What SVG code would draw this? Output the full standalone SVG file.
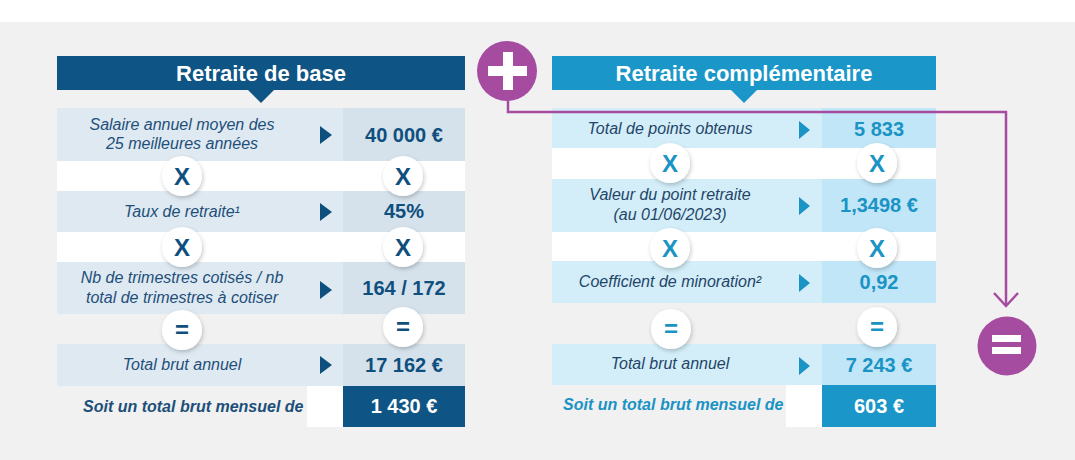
<svg xmlns="http://www.w3.org/2000/svg" width="1075" height="460" viewBox="0 0 1075 460">
<defs>
<filter id="sh" x="-40%" y="-40%" width="180%" height="180%">
<feDropShadow dx="1" dy="2" stdDeviation="2" flood-color="#000" flood-opacity="0.22"/>
</filter>
</defs>
<style>
text{font-family:"Liberation Sans",Arial,sans-serif}
.hd{font-size:22px;font-weight:bold;fill:#fff;text-anchor:middle}
.lb{font-size:16px;font-style:italic;text-anchor:middle}
.lL{fill:#1d4f7a}
.lR{fill:#1f4568}
.vL{font-size:20px;font-weight:bold;fill:#0f4f7e;text-anchor:middle}
.vR{font-size:20px;font-weight:bold;fill:#1a93c5;text-anchor:middle}
.vW{font-size:20px;font-weight:bold;fill:#fff;text-anchor:middle}
.tot{font-size:16px;font-weight:bold;font-style:italic}
.op{font-size:24px;font-weight:bold;text-anchor:middle}
.cw{fill:#fff;filter:url(#sh)}
.rowL{fill:#dfe9f1}.valL{fill:#d5e2ec}
.rowR{fill:#d3eef9}.valR{fill:#c1e6f7}
.arL{fill:#0f4f7e}.arR{fill:#1a93c5}
</style>
<rect x="0" y="0" width="1075" height="460" fill="#fff"/>
<rect x="0" y="22" width="1075" height="438" fill="#f1f1f1"/>

<g id="base">
<rect x="57" y="56" width="408" height="34" fill="#0e5484"/>
<path d="M247,89 L275,89 L261,103 Z" fill="#0e5484"/>
<text class="hd" x="261" y="81">Retraite de base</text>

<rect x="57" y="161" width="408" height="30" fill="#fff"/>
<rect x="57" y="232" width="408" height="30" fill="#fff"/>

<g id="base-r1">
<rect class="rowL" x="57" y="108" width="286" height="53"/>
<rect class="valL" x="343" y="108" width="122" height="53"/>
<text class="lb lL" x="182" y="130">Salaire annuel moyen des</text>
<text class="lb lL" x="182" y="149">25 meilleures années</text>
<path class="arL" d="M320,126 L332,135 L320,144 Z"/>
<text class="vL" x="404" y="142">40 000 €</text>
</g>
<g id="base-r2">
<rect class="rowL" x="57" y="191" width="286" height="41"/>
<rect class="valL" x="343" y="191" width="122" height="41"/>
<text class="lb lL" x="182" y="217">Taux de retraite¹</text>
<path class="arL" d="M320,203 L332,212 L320,221 Z"/>
<text class="vL" x="404" y="218">45%</text>
</g>
<g id="base-r3">
<rect class="rowL" x="57" y="262" width="286" height="52"/>
<rect class="valL" x="343" y="262" width="122" height="52"/>
<text class="lb lL" x="182" y="283">Nb de trimestres cotisés / nb</text>
<text class="lb lL" x="182" y="303">total de trimestres à cotiser</text>
<path class="arL" d="M320,281 L332,290 L320,299 Z"/>
<text class="vL" x="404" y="295">164 / 172</text>
</g>
<g id="base-r4">
<rect class="rowL" x="57" y="344" width="286" height="42"/>
<rect class="valL" x="343" y="344" width="122" height="42"/>
<text class="lb lL" x="182" y="370">Total brut annuel</text>
<path class="arL" d="M320,356 L332,365 L320,374 Z"/>
<text class="vL" x="404" y="372">17 162 €</text>
</g>
<g id="base-r5">
<text class="tot" x="83" y="412" fill="#1d4f7a">Soit un total brut mensuel de</text>
<rect x="307" y="386" width="36" height="41" fill="#fff"/>
<rect x="343" y="386" width="122" height="41" fill="#0e5484"/>
<text class="vW" x="404" y="413">1 430 €</text>
</g>
<g id="base-ops">
<circle class="cw" cx="182" cy="176" r="20"/>
<circle class="cw" cx="403" cy="176" r="20"/>
<circle class="cw" cx="182" cy="247" r="20"/>
<circle class="cw" cx="403" cy="247" r="20"/>
<circle class="cw" cx="182" cy="330" r="20"/>
<circle class="cw" cx="403" cy="327" r="20"/>
<text class="op" x="182" y="185" fill="#0f4f7e">X</text>
<text class="op" x="403" y="185" fill="#0f4f7e">X</text>
<text class="op" x="182" y="256" fill="#0f4f7e">X</text>
<text class="op" x="403" y="256" fill="#0f4f7e">X</text>
<text class="op" x="182" y="338" fill="#0f4f7e">=</text>
<text class="op" x="403" y="335" fill="#0f4f7e">=</text>
</g>
</g>

<g id="complementaire">
<rect x="552" y="56" width="384" height="34" fill="#1a96c8"/>
<path d="M730,89 L758,89 L744,103 Z" fill="#1a96c8"/>
<text class="hd" x="744" y="81">Retraite complémentaire</text>

<rect x="552" y="148" width="384" height="31" fill="#fff"/>
<rect x="552" y="232" width="384" height="29" fill="#fff"/>

<g id="comp-r1">
<rect class="rowR" x="552" y="108" width="270" height="40"/>
<rect class="valR" x="822" y="108" width="114" height="40"/>
<text class="lb lR" x="670" y="134">Total de points obtenus</text>
<path class="arR" d="M799,121 L810,130 L799,139 Z"/>
<text class="vR" x="879" y="136">5 833</text>
</g>
<g id="comp-r2">
<rect class="rowR" x="552" y="179" width="270" height="53"/>
<rect class="valR" x="822" y="179" width="114" height="53"/>
<text class="lb lR" x="670" y="200">Valeur du point retraite</text>
<text class="lb lR" x="670" y="220">(au 01/06/2023)</text>
<path class="arR" d="M799,197 L810,206 L799,215 Z"/>
<text class="vR" x="879" y="212">1,3498 €</text>
</g>
<g id="comp-r3">
<rect class="rowR" x="552" y="261" width="270" height="42"/>
<rect class="valR" x="822" y="261" width="114" height="42"/>
<text class="lb lR" x="670" y="287">Coefficient de minoration²</text>
<path class="arR" d="M799,274 L810,283 L799,292 Z"/>
<text class="vR" x="879" y="289">0,92</text>
</g>
<g id="comp-r4">
<rect class="rowR" x="552" y="344" width="270" height="41"/>
<rect class="valR" x="822" y="344" width="114" height="41"/>
<text class="lb lR" x="670" y="369">Total brut annuel</text>
<path class="arR" d="M799,357 L810,366 L799,375 Z"/>
<text class="vR" x="879" y="372">7 243 €</text>
</g>
<g id="comp-r5">
<text class="tot" x="563" y="410" fill="#1a93c5">Soit un total brut mensuel de</text>
<rect x="786" y="385" width="36" height="42" fill="#fff"/>
<rect x="822" y="385" width="114" height="42" fill="#1a96c8"/>
<text class="vW" x="879" y="413">603 €</text>
</g>
<g id="comp-ops">
<circle class="cw" cx="670" cy="163" r="20"/>
<circle class="cw" cx="877" cy="163" r="20"/>
<circle class="cw" cx="670" cy="248" r="20"/>
<circle class="cw" cx="877" cy="248" r="20"/>
<circle class="cw" cx="671" cy="329" r="20"/>
<circle class="cw" cx="877" cy="327" r="20"/>
<text class="op" x="670" y="172" fill="#1a93c5">X</text>
<text class="op" x="877" y="172" fill="#1a93c5">X</text>
<text class="op" x="670" y="257" fill="#1a93c5">X</text>
<text class="op" x="877" y="257" fill="#1a93c5">X</text>
<text class="op" x="671" y="337" fill="#1a93c5">=</text>
<text class="op" x="877" y="335" fill="#1a93c5">=</text>
</g>
</g>

<g id="connectors">
<path d="M508,96 V112 H1006 V305" fill="none" stroke="#a64ca0" stroke-width="2.5"/>
<path d="M994,293 L1006,306 L1018,293" fill="none" stroke="#a64ca0" stroke-width="2.5"/>
</g>

<g id="plus">
<circle cx="507" cy="71" r="30" fill="#a64ca0"/>
<rect x="488" y="66" width="39" height="10" fill="#fff"/>
<rect x="503" y="52" width="10" height="38" fill="#fff"/>
</g>

<g id="equals">
<circle cx="1007" cy="346" r="29.5" fill="#a64ca0"/>
<rect x="992" y="335" width="29" height="7" fill="#fff"/>
<rect x="992" y="347" width="29" height="7" fill="#fff"/>
</g>
</svg>
